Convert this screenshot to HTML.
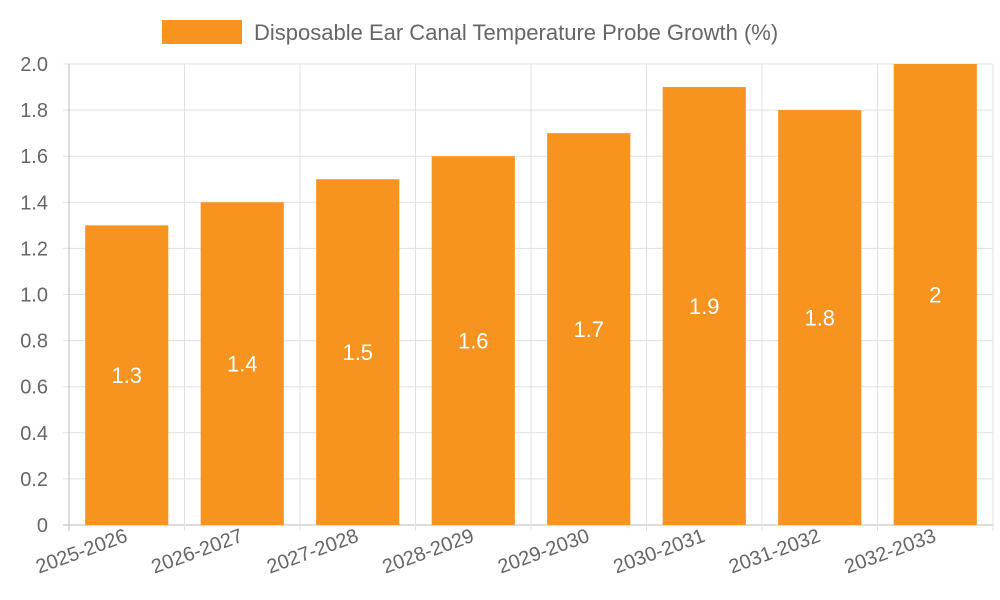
<!DOCTYPE html>
<html><head><meta charset="utf-8"><style>
body{margin:0;background:#fff;}
svg{display:block;font-family:"Liberation Sans",sans-serif;}
</style></head><body>
<svg id="chart" width="1000" height="600"></svg>
<script>
const categories=["2025-2026","2026-2027","2027-2028","2028-2029","2029-2030","2030-2031","2031-2032","2032-2033"];
const values=[1.3,1.4,1.5,1.6,1.7,1.9,1.8,2];
const yTicks=[0,0.2,0.4,0.6,0.8,1.0,1.2,1.4,1.6,1.8,2.0];
const yTickLabels=["0","0.2","0.4","0.6","0.8","1.0","1.2","1.4","1.6","1.8","2.0"];
const seriesName="Disposable Ear Canal Temperature Probe Growth (%)";
const svg=document.getElementById('chart');
const NS="http://www.w3.org/2000/svg";
const L=69,R=993,T=64,B=525,yMax=2;
const band=(R-L)/categories.length;
const y=v=>B-(v/yMax)*(B-T);
const x=i=>L+i*band;
function mk(tag,attrs,parent){const e=document.createElementNS(NS,tag);for(const k in attrs)e.setAttribute(k,attrs[k]);(parent||svg).appendChild(e);return e;}
// grid
yTicks.forEach((t,i)=>{
 const g=mk('line',{x1:L-6,x2:R,y1:y(t),y2:y(t),stroke:i===0?'#bbb':'#e0e0e0','stroke-width':1});
 
 
 const tx=mk('text',{x:48,y:y(t)+7,'text-anchor':'end','font-size':20,fill:'#666'});
 tx.textContent=yTickLabels[i];
 
 
});
for(let i=0;i<=categories.length;i++){
 const g=mk('line',{x1:x(i),x2:x(i),y1:T,y2:B+6,stroke:i===0?'#bbb':'#e0e0e0','stroke-width':1});
 
 
}
categories.forEach((c,i)=>{
 const bw=band*0.72;
 const bx=x(i)+(band-bw)/2;
 const r=mk('rect',{x:bx,y:y(values[i]),width:bw,height:B-y(values[i]),fill:'#f7941f'});
 
 
 const vl=mk('text',{x:x(i)+band/2,y:(y(values[i])+B)/2+8,'text-anchor':'middle','font-size':22,fill:'#fff'});
 vl.textContent=String(values[i]);
 
 
 const cx=x(i)+band/2+2,cy=541;
 const xl=mk('text',{x:cx,y:cy,'text-anchor':'end','font-size':20,fill:'#666',transform:`rotate(-20 ${cx} ${cy})`});
 xl.textContent=c;
 
 
});
const lb=mk('rect',{x:162,y:20,width:80,height:24,fill:'#f7941f'});


const lt=mk('text',{x:254,y:40,'font-size':22,fill:'#666'});
lt.textContent=seriesName;


</script>
</body></html>
